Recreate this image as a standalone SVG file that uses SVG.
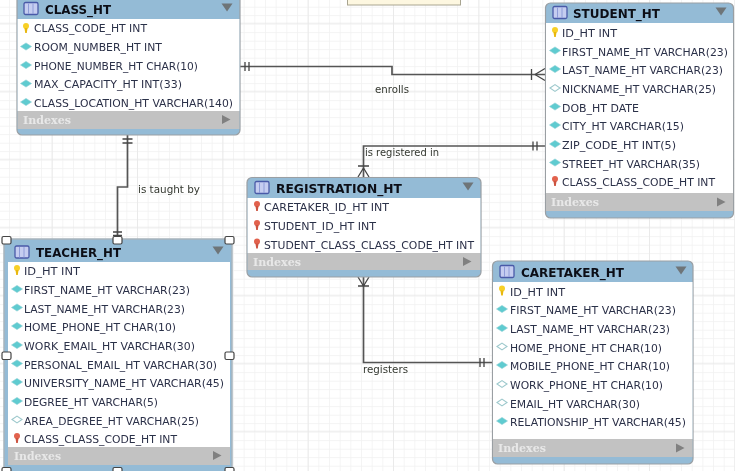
<svg xmlns="http://www.w3.org/2000/svg" xmlns:xlink="http://www.w3.org/1999/xlink" width="735" height="471" viewBox="0 0 735 471">
<style>
.card{fill:#94bbd6;stroke:#9a9fa3;stroke-width:1.2}
.body{fill:#fff}
.idx{fill:#c2c2c2}
.t{font-family:"DejaVu Sans","Liberation Sans",sans-serif;font-size:11.3px;fill:#2c3048}
.h{font-family:"DejaVu Sans","Liberation Sans",sans-serif;font-size:12.8px;font-weight:700;fill:#0c1018}
.i{font-family:"DejaVu Serif","Liberation Serif",serif;font-size:11.5px;font-weight:700;fill:#e8e8e8}
.l{font-family:"DejaVu Sans","Liberation Sans",sans-serif;font-size:11.3px;fill:#343830}
.c{fill:none;stroke:#555;stroke-width:1.7}
.b{fill:none;stroke:#444;stroke-width:1.3}
.hd{fill:#fff;stroke:#444;stroke-width:1.2}
</style>
<defs>
<pattern id="minor" width="10.667" height="8.5" patternUnits="userSpaceOnUse" x="9" y="6.7">
<path d="M0 0V8.5M0 0H10.667" fill="none" stroke="#f0f0f0" stroke-width="1.4"/>
</pattern>
<pattern id="major" width="85.333" height="68" patternUnits="userSpaceOnUse" x="51.7" y="22.7">
<path d="M0 0V68M0 0H85.333" fill="none" stroke="#e8e8e8" stroke-width="1.6"/>
</pattern>
<filter id="soft" x="0" y="0" width="100%" height="100%"><feGaussianBlur stdDeviation="0.45"/></filter>
<g id="tbl"><rect x="0" y="0" width="14" height="12" rx="1.5" fill="#c5cdf0" stroke="#4a5aa8" stroke-width="1.3"/><path d="M4.5 1V11.5M9 1V11.5" stroke="#8f9cd8" stroke-width="1"/></g>
<g id="key"><circle cx="0" cy="-2" r="3" fill="#f8d028"/><path d="M-1.500 0H1.500L.8 5H-.8Z" fill="#e8b810"/></g>
<g id="fk"><circle cx="0" cy="-2" r="3" fill="#e2624e"/><path d="M-1.500 0H1.500L.8 5H-.8Z" fill="#cc5240"/></g>
<path id="dm" d="M-5.500 0L0-3.600L5.500 0L0 3.600Z" fill="#5fcbd0" stroke="#8ccfd4" stroke-width=".6"/>
<path id="dh" d="M-5 0L0-3.400L5 0L0 3.400Z" fill="#fff" stroke="#9cc8cc" stroke-width="1.1"/>
<path id="dn" d="M-5.500 -4.500H5.500L0 3.500Z" fill="#6e7478"/>
<path id="rt" d="M0 -4.500L8.500 0L0 4.500Z" fill="#808080"/>
</defs>
<g filter="url(#soft)">
<rect width="735" height="471" fill="#fff"/>
<rect width="735" height="471" fill="url(#minor)"/>
<rect width="735" height="471" fill="url(#major)"/>
<rect x="347.500" y="-4" width="113" height="9" fill="#fdf7e0" stroke="#a8a490"/>

<g id="connectors">
<path class="c" d="M240 66.500H392V74.500H545"/>
<path class="b" d="M245 62V71M249 62V71M531.500 69V80M535 74.500L545 68.500M535 74.500L545 80.500"/>
<path class="c" d="M127.500 135V187H117.500V238"/>
<path class="b" d="M122.500 139H132.500M122.500 143H132.500M113 232H122M113 235.500H122"/>
<path class="c" d="M545 146H363.500V177"/>
<path class="b" d="M533 141.500V150.500M537 141.500V150.500M358 166H369M363.500 168L358 177M363.500 168L369 177"/>
<path class="c" d="M363.500 277V362.500H492"/>
<path class="b" d="M358 286H369M363.500 286L358 277M363.500 286L369 277M480 358V367M484 358V367"/>
</g>
<g id="labels">
<text class="l" x="375" y="92.500" textLength="34" lengthAdjust="spacingAndGlyphs">enrolls</text>
<text class="l" x="138" y="192.500" textLength="62" lengthAdjust="spacingAndGlyphs">is taught by</text>
<text class="l" x="365" y="156" textLength="74" lengthAdjust="spacingAndGlyphs">is registered in</text>
<text class="l" x="363" y="372.500" textLength="45" lengthAdjust="spacingAndGlyphs">registers</text>
</g>

<g id="class-ht">
<rect class="card" x="17" y="-6" width="223" height="141" rx="5"/>
<rect class="body" x="17.600" y="19" width="221.800" height="92"/>
<rect class="idx" x="17.600" y="111" width="221.800" height="18"/>
<use xlink:href="#tbl" x="24" y="2.500"/>
<text class="h" x="45" y="14" textLength="66" lengthAdjust="spacingAndGlyphs">CLASS_HT</text>
<use xlink:href="#dn" x="227" y="8"/>
<use xlink:href="#key" x="26" y="28"/>
<text class="t" x="34" y="32" textLength="113" lengthAdjust="spacingAndGlyphs">CLASS_CODE_HT INT</text>
<use xlink:href="#dm" x="26" y="46.500"/>
<text class="t" x="34" y="51" textLength="128" lengthAdjust="spacingAndGlyphs">ROOM_NUMBER_HT INT</text>
<use xlink:href="#dm" x="26" y="65"/>
<text class="t" x="34" y="70" textLength="164" lengthAdjust="spacingAndGlyphs">PHONE_NUMBER_HT CHAR(10)</text>
<use xlink:href="#dm" x="26" y="83.500"/>
<text class="t" x="34" y="88" textLength="148" lengthAdjust="spacingAndGlyphs">MAX_CAPACITY_HT INT(33)</text>
<use xlink:href="#dm" x="26" y="102"/>
<text class="t" x="34" y="107" textLength="199" lengthAdjust="spacingAndGlyphs">CLASS_LOCATION_HT VARCHAR(140)</text>
<text class="i" x="23" y="124" textLength="48" lengthAdjust="spacingAndGlyphs">Indexes</text>
<use xlink:href="#rt" x="222" y="119.500"/>
</g>

<g id="teacher-ht">
<rect x="4" y="239" width="228" height="236" fill="#94bbd6" stroke="#a8b4bc" stroke-width="1.500"/>
<rect class="body" x="8" y="262" width="222" height="185"/>
<rect class="idx" x="8" y="447" width="222" height="18"/>
<use xlink:href="#tbl" x="15" y="246"/>
<text class="h" x="36" y="257" textLength="85" lengthAdjust="spacingAndGlyphs">TEACHER_HT</text>
<use xlink:href="#dn" x="218" y="251"/>
<use xlink:href="#key" x="17" y="270"/>
<text class="t" x="24" y="275" textLength="56" lengthAdjust="spacingAndGlyphs">ID_HT INT</text>
<use xlink:href="#dm" x="17" y="289"/>
<text class="t" x="24" y="294" textLength="166" lengthAdjust="spacingAndGlyphs">FIRST_NAME_HT VARCHAR(23)</text>
<use xlink:href="#dm" x="17" y="307.500"/>
<text class="t" x="24" y="312.500" textLength="161" lengthAdjust="spacingAndGlyphs">LAST_NAME_HT VARCHAR(23)</text>
<use xlink:href="#dm" x="17" y="326"/>
<text class="t" x="24" y="331" textLength="152" lengthAdjust="spacingAndGlyphs">HOME_PHONE_HT CHAR(10)</text>
<use xlink:href="#dm" x="17" y="345"/>
<text class="t" x="24" y="350" textLength="171" lengthAdjust="spacingAndGlyphs">WORK_EMAIL_HT VARCHAR(30)</text>
<use xlink:href="#dm" x="17" y="363.500"/>
<text class="t" x="24" y="368.500" textLength="193" lengthAdjust="spacingAndGlyphs">PERSONAL_EMAIL_HT VARCHAR(30)</text>
<use xlink:href="#dm" x="17" y="382"/>
<text class="t" x="24" y="387" textLength="200" lengthAdjust="spacingAndGlyphs">UNIVERSITY_NAME_HT VARCHAR(45)</text>
<use xlink:href="#dm" x="17" y="401"/>
<text class="t" x="24" y="406" textLength="134" lengthAdjust="spacingAndGlyphs">DEGREE_HT VARCHAR(5)</text>
<use xlink:href="#dh" x="17" y="419.500"/>
<text class="t" x="24" y="424.500" textLength="175" lengthAdjust="spacingAndGlyphs">AREA_DEGREE_HT VARCHAR(25)</text>
<use xlink:href="#fk" x="17" y="438"/>
<text class="t" x="24" y="443" textLength="153" lengthAdjust="spacingAndGlyphs">CLASS_CLASS_CODE_HT INT</text>
<text class="i" x="14" y="460" textLength="47" lengthAdjust="spacingAndGlyphs">Indexes</text>
<use xlink:href="#rt" x="213" y="455.500"/>
<rect class="hd" x="2" y="236.500" width="9" height="7.500" rx="1.500"/>
<rect class="hd" x="113" y="236.500" width="9" height="7.500" rx="1.500"/>
<rect class="hd" x="225" y="236.500" width="9" height="7.500" rx="1.500"/>
<rect class="hd" x="2" y="352" width="9" height="7.500" rx="1.500"/>
<rect class="hd" x="225" y="352" width="9" height="7.500" rx="1.500"/>
<rect class="hd" x="2" y="467.500" width="9" height="7.500" rx="1.500"/>
<rect class="hd" x="113" y="467.500" width="9" height="7.500" rx="1.500"/>
<rect class="hd" x="225" y="467.500" width="9" height="7.500" rx="1.500"/>
</g>

<g id="student-ht">
<rect class="card" x="545.500" y="3" width="188" height="215" rx="5"/>
<rect class="body" x="546" y="23" width="187" height="170"/>
<rect class="idx" x="546" y="193" width="187" height="18"/>
<use xlink:href="#tbl" x="553" y="6.500"/>
<text class="h" x="573" y="18" textLength="87" lengthAdjust="spacingAndGlyphs">STUDENT_HT</text>
<use xlink:href="#dn" x="721" y="12"/>
<use xlink:href="#key" x="555" y="32"/>
<text class="t" x="562" y="37" textLength="55" lengthAdjust="spacingAndGlyphs">ID_HT INT</text>
<use xlink:href="#dm" x="555" y="50.500"/>
<text class="t" x="562" y="55.500" textLength="166" lengthAdjust="spacingAndGlyphs">FIRST_NAME_HT VARCHAR(23)</text>
<use xlink:href="#dm" x="555" y="69"/>
<text class="t" x="562" y="74" textLength="161" lengthAdjust="spacingAndGlyphs">LAST_NAME_HT VARCHAR(23)</text>
<use xlink:href="#dh" x="555" y="88"/>
<text class="t" x="562" y="93" textLength="154" lengthAdjust="spacingAndGlyphs">NICKNAME_HT VARCHAR(25)</text>
<use xlink:href="#dm" x="555" y="106.500"/>
<text class="t" x="562" y="111.500" textLength="77" lengthAdjust="spacingAndGlyphs">DOB_HT DATE</text>
<use xlink:href="#dm" x="555" y="125"/>
<text class="t" x="562" y="130" textLength="122" lengthAdjust="spacingAndGlyphs">CITY_HT VARCHAR(15)</text>
<use xlink:href="#dm" x="555" y="144"/>
<text class="t" x="562" y="149" textLength="114" lengthAdjust="spacingAndGlyphs">ZIP_CODE_HT INT(5)</text>
<use xlink:href="#dm" x="555" y="162.500"/>
<text class="t" x="562" y="167.500" textLength="138" lengthAdjust="spacingAndGlyphs">STREET_HT VARCHAR(35)</text>
<use xlink:href="#fk" x="555" y="181"/>
<text class="t" x="562" y="186" textLength="153" lengthAdjust="spacingAndGlyphs">CLASS_CLASS_CODE_HT INT</text>
<text class="i" x="551" y="206" textLength="48" lengthAdjust="spacingAndGlyphs">Indexes</text>
<use xlink:href="#rt" x="717" y="202"/>
</g>

<g id="registration-ht">
<rect class="card" x="247" y="177.500" width="234" height="99.500" rx="5"/>
<rect class="body" x="247.600" y="198" width="232.800" height="55"/>
<rect class="idx" x="247.600" y="253" width="232.800" height="17"/>
<use xlink:href="#tbl" x="255" y="181.500"/>
<text class="h" x="276" y="193" textLength="126" lengthAdjust="spacingAndGlyphs">REGISTRATION_HT</text>
<use xlink:href="#dn" x="468" y="187"/>
<use xlink:href="#fk" x="257" y="206"/>
<text class="t" x="264" y="211" textLength="125" lengthAdjust="spacingAndGlyphs">CARETAKER_ID_HT INT</text>
<use xlink:href="#fk" x="257" y="225"/>
<text class="t" x="264" y="230" textLength="112" lengthAdjust="spacingAndGlyphs">STUDENT_ID_HT INT</text>
<use xlink:href="#fk" x="257" y="243.500"/>
<text class="t" x="264" y="248.500" textLength="210" lengthAdjust="spacingAndGlyphs">STUDENT_CLASS_CLASS_CODE_HT INT</text>
<text class="i" x="253" y="266" textLength="48" lengthAdjust="spacingAndGlyphs">Indexes</text>
<use xlink:href="#rt" x="463" y="261.500"/>
</g>

<g id="caretaker-ht">
<rect class="card" x="492.500" y="261" width="200.500" height="203" rx="5"/>
<rect class="body" x="493" y="282" width="199.500" height="157"/>
<rect class="idx" x="493" y="439" width="199.500" height="18"/>
<use xlink:href="#tbl" x="500" y="265.500"/>
<text class="h" x="521" y="277" textLength="103" lengthAdjust="spacingAndGlyphs">CARETAKER_HT</text>
<use xlink:href="#dn" x="681" y="271"/>
<use xlink:href="#key" x="502" y="290.500"/>
<text class="t" x="510" y="295.500" textLength="55" lengthAdjust="spacingAndGlyphs">ID_HT INT</text>
<use xlink:href="#dm" x="502" y="309"/>
<text class="t" x="510" y="314" textLength="166" lengthAdjust="spacingAndGlyphs">FIRST_NAME_HT VARCHAR(23)</text>
<use xlink:href="#dm" x="502" y="328"/>
<text class="t" x="510" y="333" textLength="160" lengthAdjust="spacingAndGlyphs">LAST_NAME_HT VARCHAR(23)</text>
<use xlink:href="#dh" x="502" y="346.500"/>
<text class="t" x="510" y="351.500" textLength="152" lengthAdjust="spacingAndGlyphs">HOME_PHONE_HT CHAR(10)</text>
<use xlink:href="#dm" x="502" y="365"/>
<text class="t" x="510" y="370" textLength="160" lengthAdjust="spacingAndGlyphs">MOBILE_PHONE_HT CHAR(10)</text>
<use xlink:href="#dh" x="502" y="384"/>
<text class="t" x="510" y="389" textLength="153" lengthAdjust="spacingAndGlyphs">WORK_PHONE_HT CHAR(10)</text>
<use xlink:href="#dh" x="502" y="402.500"/>
<text class="t" x="510" y="407.500" textLength="130" lengthAdjust="spacingAndGlyphs">EMAIL_HT VARCHAR(30)</text>
<use xlink:href="#dm" x="502" y="421"/>
<text class="t" x="510" y="426" textLength="176" lengthAdjust="spacingAndGlyphs">RELATIONSHIP_HT VARCHAR(45)</text>
<text class="i" x="498" y="452" textLength="48" lengthAdjust="spacingAndGlyphs">Indexes</text>
<use xlink:href="#rt" x="676" y="448"/>
</g>
</g>
</svg>
